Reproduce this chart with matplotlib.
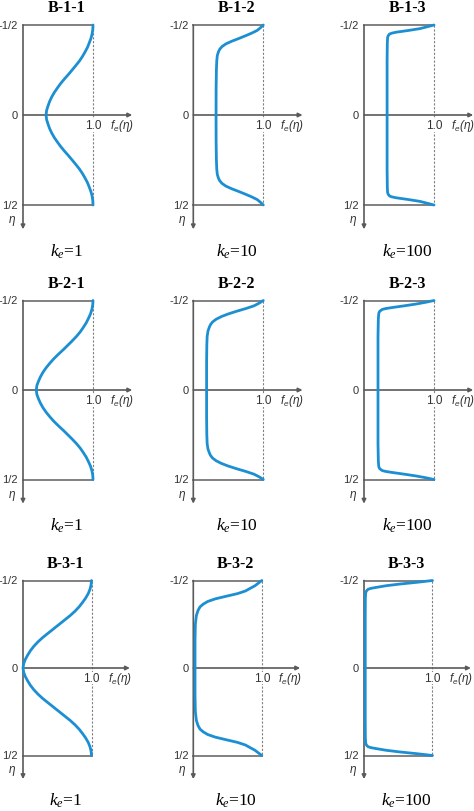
import matplotlib
matplotlib.use("Agg")
import matplotlib.pyplot as plt

plt.rcParams["mathtext.fontset"] = "custom"
plt.rcParams["mathtext.rm"] = "Liberation Serif"
plt.rcParams["mathtext.it"] = "Liberation Serif:italic"
plt.rcParams["mathtext.bf"] = "Liberation Serif:bold"
plt.rcParams["mathtext.sf"] = "Liberation Sans:italic"

# ---- data (eta downwards, f_e(eta) to the right) ----
ETA_K1 = [-0.5, -0.475, -0.45, -0.425, -0.4, -0.375, -0.35, -0.325, -0.3, -0.275, -0.25,
          -0.225, -0.2, -0.175, -0.15, -0.125, -0.1, -0.075, -0.05, -0.025, 0.0,
          0.025, 0.05, 0.075, 0.1, 0.125, 0.15, 0.175, 0.2, 0.225, 0.25,
          0.275, 0.3, 0.325, 0.35, 0.375, 0.4, 0.425, 0.45, 0.475, 0.5]
ETA_K10 = [-0.5, -0.485, -0.47, -0.455, -0.44, -0.425, -0.41, -0.395, -0.38, -0.365, -0.35,
           -0.33, -0.3, -0.25, -0.15, 0.0,
           0.15, 0.25, 0.3, 0.33, 0.35, 0.365, 0.38, 0.395, 0.41, 0.425, 0.44, 0.455,
           0.47, 0.485, 0.5]
ETA_K100 = [-0.5, -0.49, -0.48, -0.47, -0.46, -0.455, -0.45, -0.44, -0.43, -0.4, -0.3, 0.0,
            0.3, 0.4, 0.43, 0.44, 0.45, 0.455, 0.46, 0.47, 0.48, 0.49, 0.5]

FE_B11 = [1.0, 0.997, 0.987, 0.970, 0.946, 0.920, 0.886, 0.849, 0.806, 0.755, 0.702,
          0.648, 0.591, 0.538, 0.491, 0.447, 0.410, 0.380, 0.357, 0.337, 0.33,
          0.337, 0.357, 0.380, 0.410, 0.447, 0.491, 0.538, 0.591, 0.648, 0.702,
          0.755, 0.806, 0.849, 0.886, 0.920, 0.946, 0.970, 0.987, 0.997, 1.0]
FE_B21 = [1.0, 0.996, 0.984, 0.964, 0.935, 0.903, 0.862, 0.818, 0.765, 0.704, 0.64,
          0.575, 0.506, 0.441, 0.384, 0.332, 0.287, 0.251, 0.222, 0.198, 0.19,
          0.198, 0.222, 0.251, 0.287, 0.332, 0.384, 0.441, 0.506, 0.575, 0.64,
          0.704, 0.765, 0.818, 0.862, 0.903, 0.935, 0.964, 0.984, 0.996, 1.0]
FE_B31 = [1.0, 0.994, 0.978, 0.952, 0.915, 0.87, 0.82, 0.76, 0.69, 0.61, 0.53,
          0.45, 0.37, 0.29, 0.22, 0.16, 0.11, 0.07, 0.035, 0.01, 0.0,
          0.01, 0.035, 0.07, 0.11, 0.16, 0.22, 0.29, 0.37, 0.45, 0.53,
          0.61, 0.69, 0.76, 0.82, 0.87, 0.915, 0.952, 0.978, 0.994, 1.0]

FE_B12 = [1.0, 0.96, 0.913, 0.835, 0.745, 0.65, 0.55, 0.465, 0.41, 0.377, 0.358,
          0.343, 0.335, 0.33, 0.326, 0.325,
          0.326, 0.33, 0.335, 0.343, 0.358, 0.377, 0.41, 0.465, 0.55, 0.65, 0.745, 0.835,
          0.913, 0.96, 1.0]
FE_B22 = [1.0, 0.94, 0.865, 0.75, 0.62, 0.50, 0.40, 0.325, 0.275, 0.245, 0.228,
          0.21, 0.198, 0.193, 0.19, 0.19,
          0.19, 0.193, 0.198, 0.21, 0.228, 0.245, 0.275, 0.325, 0.40, 0.50, 0.62, 0.75,
          0.865, 0.94, 1.0]
FE_B32 = [1.0, 0.95, 0.90, 0.83, 0.76, 0.645, 0.48, 0.32, 0.21, 0.145, 0.10,
          0.07, 0.045, 0.03, 0.025, 0.025,
          0.025, 0.03, 0.045, 0.07, 0.10, 0.145, 0.21, 0.32, 0.48, 0.645, 0.76, 0.83,
          0.90, 0.95, 1.0]

FE_B13 = [1.0, 0.90, 0.80, 0.64, 0.46, 0.40, 0.365, 0.345, 0.337, 0.333, 0.33, 0.33,
          0.33, 0.333, 0.337, 0.345, 0.365, 0.40, 0.46, 0.64, 0.80, 0.90, 1.0]
FE_B23 = [1.0, 0.88, 0.74, 0.57, 0.39, 0.31, 0.26, 0.225, 0.212, 0.205, 0.2, 0.2,
          0.2, 0.205, 0.212, 0.225, 0.26, 0.31, 0.39, 0.57, 0.74, 0.88, 1.0]
FE_B33 = [1.0, 0.78, 0.53, 0.32, 0.17, 0.10, 0.06, 0.035, 0.025, 0.02, 0.018, 0.018,
          0.018, 0.02, 0.025, 0.035, 0.06, 0.10, 0.17, 0.32, 0.53, 0.78, 1.0]

ETAS = [ETA_K1, ETA_K10, ETA_K100]
CURVES = [[FE_B11, FE_B12, FE_B13],
          [FE_B21, FE_B22, FE_B23],
          [FE_B31, FE_B32, FE_B33]]
TITLES = [["B-1-1", "B-1-2", "B-1-3"],
          ["B-2-1", "B-2-2", "B-2-3"],
          ["B-3-1", "B-3-2", "B-3-3"]]
K_VALUES = ["1", "10", "100"]
ETA_TICKS = [-0.5, 0.0, 0.5]
ETA_TICK_LABELS = ["-1/2", "0", "1/2"]

# ---- layout (pixels) ----
FIG_W, FIG_H = 474, 812
COL_LEFT = [23, 193.3, 364]
ROW_TOP = [26, 301.5, 581.5]
ROW_H = [180, 179, 175]
ROW_W = [70, 70, 68.5]

BLUE = "#1c8fd3"
GRAY = "#808080"
AXC = "#5a5a5a"
TXT = "#333333"

fig = plt.figure(figsize=(FIG_W / 100, FIG_H / 100), dpi=100)

for r in range(3):
    for c in range(3):
        left = COL_LEFT[c]
        w = ROW_W[r]
        top = ROW_TOP[r]
        h = ROW_H[r]
        ax = fig.add_axes([left / FIG_W, 1 - (top + h) / FIG_H, w / FIG_W, h / FIG_H])
        ax.set_xlim(0, 1)
        ax.set_ylim(0.5, -0.5)
        ax.axis("off")

        # frame lines
        ax.plot([0, 1], [-0.5, -0.5], color=GRAY, lw=1.4, clip_on=False)
        ax.plot([0, 1], [0.5, 0.5], color=GRAY, lw=1.4, clip_on=False)
        ax.plot([1, 1], [-0.5, 0.5], color=GRAY, lw=0.8, ls=(0, (2, 1.5)), clip_on=False)

        # axes with arrows
        arrow = dict(arrowstyle="-|>", color=AXC, lw=1.2, mutation_scale=6,
                     shrinkA=0, shrinkB=0)
        ax.annotate("", xy=(0, 0.635), xytext=(0, -0.5), arrowprops=arrow,
                    annotation_clip=False)
        ax.annotate("", xy=(1.56, 0), xytext=(0, 0), arrowprops=arrow,
                    annotation_clip=False)

        # profile
        ax.plot(CURVES[r][c], ETAS[c], color=BLUE, lw=2.0, clip_on=False,
                solid_joinstyle="round", solid_capstyle="round", zorder=5)

        # labels
        for t, lab in zip(ETA_TICKS, ETA_TICK_LABELS):
            ax.text(-0.07, t, lab, ha="right", va="center", fontsize=8,
                    color=TXT, family="Liberation Sans")
        ax.text(1.0, 0.057, "1.0", ha="center", va="center", fontsize=8.5,
                color=TXT, family="Liberation Sans", zorder=6,
                bbox=dict(facecolor="white", edgecolor="none", pad=0.3))
        ax.text(1.24, 0.057, r"$\mathsf{f_e(\eta)}$", ha="left", va="center",
                fontsize=8.5, color=TXT)
        ax.text(-0.1, 0.585, r"$\mathsf{\eta}$", ha="right", va="center",
                fontsize=8.5, color=TXT)
        ax.text(0.62, -0.598, TITLES[r][c], ha="center", va="center",
                fontsize=11.5, fontweight="bold", family="Liberation Serif")
        ax.text(0.62, 0.755, r"$k_e$=" + K_VALUES[c], ha="center", va="center",
                fontsize=12.5, family="Liberation Serif")

fig.savefig("out.png", dpi=100)
